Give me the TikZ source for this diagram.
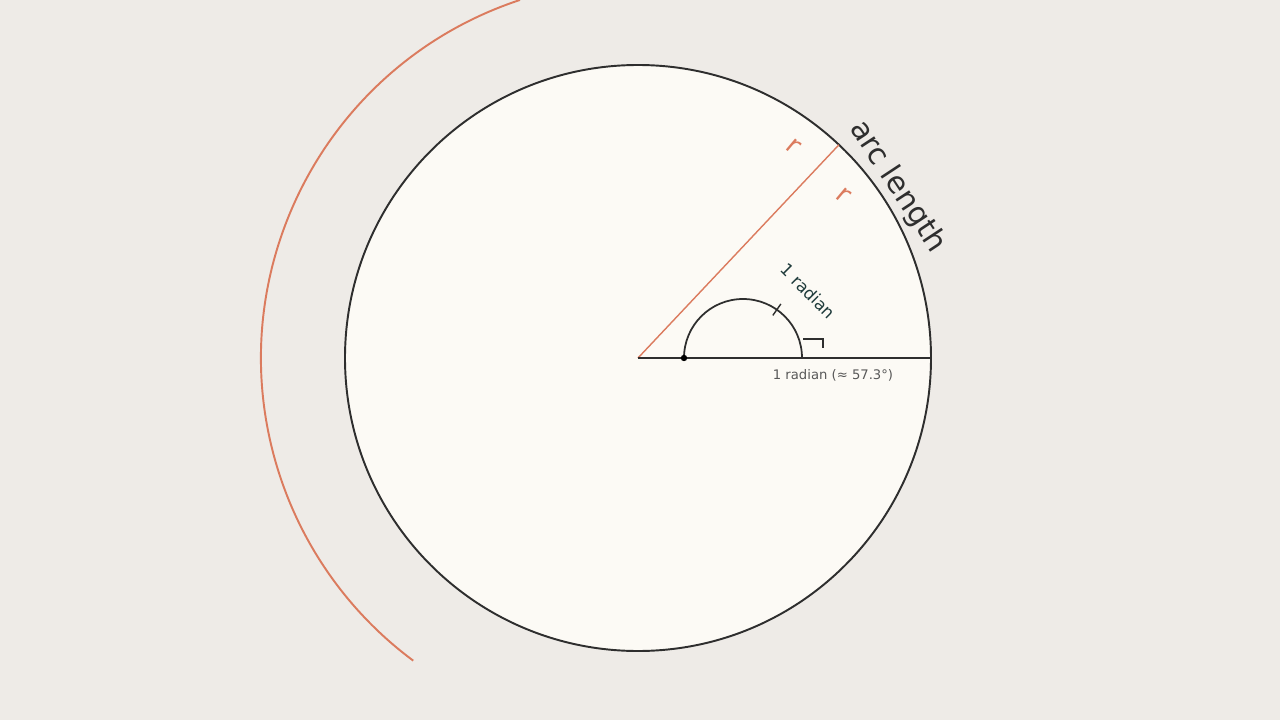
\documentclass[tikz,border=0pt]{standalone}
\usepackage{fontspec}
\setmainfont{DejaVu Sans}
\usetikzlibrary{calc}
\definecolor{bgcol}{HTML}{EEEBE7}
\definecolor{discfill}{HTML}{FCFAF5}
\definecolor{rustline}{HTML}{DB7B5E}
\definecolor{inkline}{HTML}{2E2E2E}
\definecolor{tealink}{HTML}{1F3B3B}
\begin{document}
\begin{tikzpicture}[x=0.02cm, y=0.02cm]
			\fill[bgcol] (-638,-362) rectangle (642,358);
			\useasboundingbox (-638,-362) rectangle (642,358);

			% outer arc
			\draw[rustline, line width=1.1pt] (108.25:377) arc (108.25:233.4:377);

			% unit circle
			\draw[inkline, fill=discfill, line width=1.1pt] (0,0) coordinate (O) circle (293);

			% radii
			\coordinate (P) at (46.7:293);
			\coordinate (Q) at (293,0);
			\draw[rustline, line width=0.8pt] (O)--(P);
			\draw[inkline, line width=1.1pt] (O)--(Q);

			% angle arc
			\draw[inkline, line width=1pt] (46,0) coordinate (A) arc (180:0:59) coordinate (B);
			\fill[black] (A) circle (3.2);
			\draw[inkline, line width=0.8pt] ($(105,0)+(55:52)$)--($(105,0)+(55:66)$);
			\draw[inkline, line width=0.8pt] (165,19)--(185,19)--(185,10);

			% labels
			\node[rotate=-56.6, font=\fontsize{17}{20}\selectfont, text=inkline] (arclab) at (33.4:311) {arc length};
			\node[rotate=-40, font=\fontsize{15}{17}\selectfont, text=rustline] (rtop) at (155,212) {r};
			\node[rotate=-40, font=\fontsize{15}{17}\selectfont, text=rustline] (rside) at (205,163) {r};
			\node[rotate=-45, font=\fontsize{9.5}{11}\selectfont, text=tealink] (radlab) at (170,67) {1 radian};
			\node[font=\fontsize{7.5}{9}\selectfont, text=inkline!80] (unitlab) at (195,-17) {1 radian (≈ 57.3°)};
		\end{tikzpicture}
\end{document}
